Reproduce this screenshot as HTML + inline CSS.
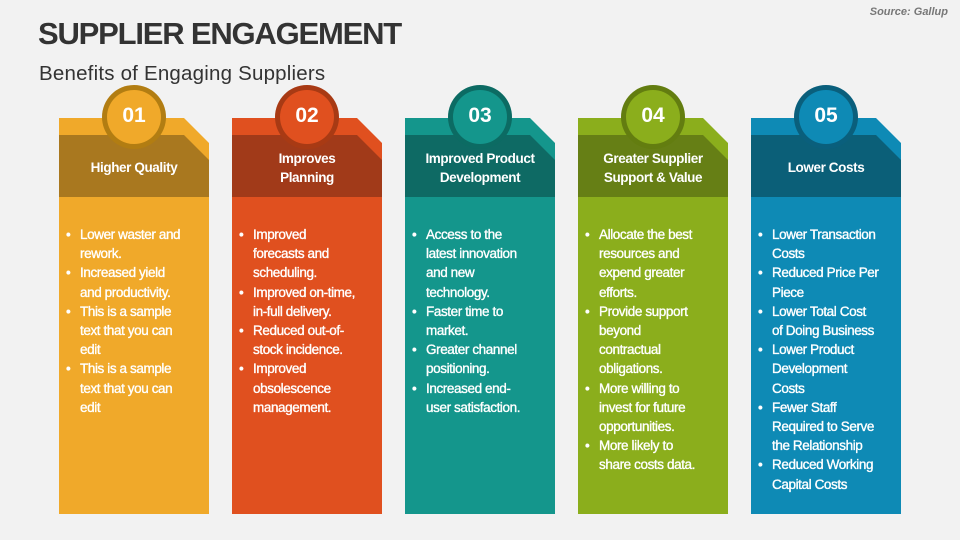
<!DOCTYPE html>
<html><head><meta charset="utf-8"><style>
body{margin:0;width:960px;height:540px;background:#f2f2f2;font-family:"Liberation Sans",sans-serif;position:relative;overflow:hidden}
.t{position:absolute;left:38px;top:16px;font-size:31px;font-weight:bold;color:#333;letter-spacing:-1.2px}
.s{position:absolute;left:39px;top:62px;font-size:20.5px;color:#333;letter-spacing:0.2px}
.src{position:absolute;right:12px;top:6px;font-size:11px;font-style:italic;font-weight:bold;color:#777}
svg{position:absolute;left:0;top:0}
.h{position:absolute;width:150px;text-align:center;color:#fff;font-weight:bold;font-size:13.5px;line-height:19px;letter-spacing:-0.4px}
.n{position:absolute;width:60px;text-align:center;color:#fff;font-weight:bold;font-size:21px;top:104px}
ul{position:absolute;margin:0;padding:0 0 0 14px;top:225px;width:140px;color:#fff;font-size:13.5px;line-height:19.2px;list-style:none;letter-spacing:-0.4px;white-space:nowrap;-webkit-text-stroke:0.35px #fff}
li{position:relative}
li:before{content:"•";position:absolute;left:-14px}
</style></head><body>
<div class="t">SUPPLIER ENGAGEMENT</div>
<div class="s">Benefits of Engaging Suppliers</div>
<div class="src">Source: Gallup</div>
<svg width="960" height="540">
<g transform="translate(59,0)"><path d="M0 118H125L150 143V514H0Z" fill="#f0a92a"/><path d="M0 135H125L150 160V197H0Z" fill="#a9781f"/><circle cx="75" cy="117" r="32" fill="#b27d12"/><circle cx="75" cy="117" r="27" fill="#f0a92a"/></g>
<g transform="translate(232,0)"><path d="M0 118H125L150 143V514H0Z" fill="#e0501f"/><path d="M0 135H125L150 160V197H0Z" fill="#a13a19"/><circle cx="75" cy="117" r="32" fill="#a83a14"/><circle cx="75" cy="117" r="27" fill="#e0501f"/></g>
<g transform="translate(405,0)"><path d="M0 118H125L150 143V514H0Z" fill="#14968c"/><path d="M0 135H125L150 160V197H0Z" fill="#0e6a64"/><circle cx="75" cy="117" r="32" fill="#0c6b63"/><circle cx="75" cy="117" r="27" fill="#14968c"/></g>
<g transform="translate(578,0)"><path d="M0 118H125L150 143V514H0Z" fill="#8bae1c"/><path d="M0 135H125L150 160V197H0Z" fill="#667f15"/><circle cx="75" cy="117" r="32" fill="#637d10"/><circle cx="75" cy="117" r="27" fill="#8bae1c"/></g>
<g transform="translate(751,0)"><path d="M0 118H125L150 143V514H0Z" fill="#0e8ab5"/><path d="M0 135H125L150 160V197H0Z" fill="#0b5f78"/><circle cx="75" cy="117" r="32" fill="#0a5f7c"/><circle cx="75" cy="117" r="27" fill="#0e8ab5"/></g>
</svg>
<div class="n" style="left:104px">01</div>
<div class="n" style="left:277px">02</div>
<div class="n" style="left:450px">03</div>
<div class="n" style="left:623px">04</div>
<div class="n" style="left:796px">05</div>
<div class="h" style="left:59px;top:158px">Higher Quality</div>
<div class="h" style="left:232px;top:149px">Improves<br>Planning</div>
<div class="h" style="left:405px;top:149px">Improved Product<br>Development</div>
<div class="h" style="left:578px;top:149px">Greater Supplier<br>Support &amp; Value</div>
<div class="h" style="left:751px;top:158px">Lower Costs</div>
<ul style="left:66px"><li>Lower waster and<br>rework.</li><li>Increased yield<br>and productivity.</li><li>This is a sample<br>text that you can<br>edit</li><li>This is a sample<br>text that you can<br>edit</li></ul>
<ul style="left:239px"><li>Improved<br>forecasts and<br>scheduling.</li><li>Improved on-time,<br>in-full delivery.</li><li>Reduced out-of-<br>stock incidence.</li><li>Improved<br>obsolescence<br>management.</li></ul>
<ul style="left:412px"><li>Access to the<br>latest innovation<br>and new<br>technology.</li><li>Faster time to<br>market.</li><li>Greater channel<br>positioning.</li><li>Increased end-<br>user satisfaction.</li></ul>
<ul style="left:585px"><li>Allocate the best<br>resources and<br>expend greater<br>efforts.</li><li>Provide support<br>beyond<br>contractual<br>obligations.</li><li>More willing to<br>invest for future<br>opportunities.</li><li>More likely to<br>share costs data.</li></ul>
<ul style="left:758px"><li>Lower Transaction<br>Costs</li><li>Reduced Price Per<br>Piece</li><li>Lower Total Cost<br>of Doing Business</li><li>Lower Product<br>Development<br>Costs</li><li>Fewer Staff<br>Required to Serve<br>the Relationship</li><li>Reduced Working<br>Capital Costs</li></ul>
</body></html>
